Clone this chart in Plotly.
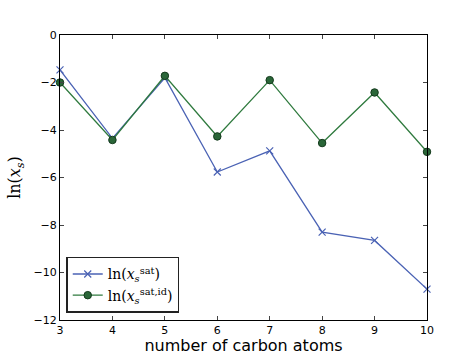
import plotly.graph_objects as go

carbon_atoms = [3, 4, 5, 6, 7, 8, 9, 10]
ln_x_sat = [-1.47, -4.35, -1.80, -5.77, -4.88, -8.30, -8.65, -10.70]
ln_x_sat_id = [-2.00, -4.42, -1.72, -4.27, -1.90, -4.55, -2.42, -4.92]
y_ticks = [0, -2, -4, -6, -8, -10, -12]
y_tick_labels = ["0", "\u22122", "\u22124", "\u22126", "\u22128", "\u221210", "\u221212"]

fig = go.Figure()
fig.add_trace(go.Scatter(
    x=carbon_atoms, y=ln_x_sat, mode="lines+markers",
    name="ln(<i>x</i><sub><i>s</i></sub><sup>sat</sup>)",
    line=dict(color="#4a62b4", width=1.3),
    marker=dict(symbol="x-thin", size=7, line=dict(color="#4a62b4", width=1.2)),
    cliponaxis=False,
))
fig.add_trace(go.Scatter(
    x=carbon_atoms, y=ln_x_sat_id, mode="lines+markers",
    name="ln(<i>x</i><sub><i>s</i></sub><sup>sat,id</sup>)",
    line=dict(color="#2f7a3e", width=1.3),
    marker=dict(symbol="circle", size=7.5, color="#2a6638", line=dict(color="#143a1c", width=1)),
    cliponaxis=False,
))

fig.update_layout(
    width=474, height=355,
    margin=dict(l=60, r=47, t=35, b=35),
    paper_bgcolor="white", plot_bgcolor="white",
    font=dict(family="DejaVu Sans", size=11, color="black"),
    showlegend=True,
    legend=dict(
        x=0.017, y=0.025, xanchor="left", yanchor="bottom",
        bordercolor="#222", borderwidth=1.5, bgcolor="white",
        font=dict(family="DejaVu Serif", size=14, color="black"),
        itemwidth=30,
    ),
    xaxis=dict(
        range=[3, 10], tickvals=carbon_atoms, ticks="inside", ticklen=4,
        showgrid=False, zeroline=False, showline=True, linecolor="black",
        linewidth=1.2, mirror="allticks", automargin=False,
        title=dict(text="number of carbon atoms", font=dict(size=16), standoff=0),
    ),
    yaxis=dict(
        range=[-12, 0], tickvals=y_ticks, ticktext=y_tick_labels,
        ticks="inside", ticklen=4,
        showgrid=False, zeroline=False, showline=True, linecolor="black",
        linewidth=1.2, mirror="allticks", automargin=False,
        title=dict(text="ln(<i>x</i><sub><i>s</i></sub>)",
                   font=dict(family="DejaVu Serif", size=16), standoff=8),
    ),
)

fig.write_html("out.html", config={"displayModeBar": False},
               post_script="document.body.style.margin='0';document.body.style.padding='0';")
